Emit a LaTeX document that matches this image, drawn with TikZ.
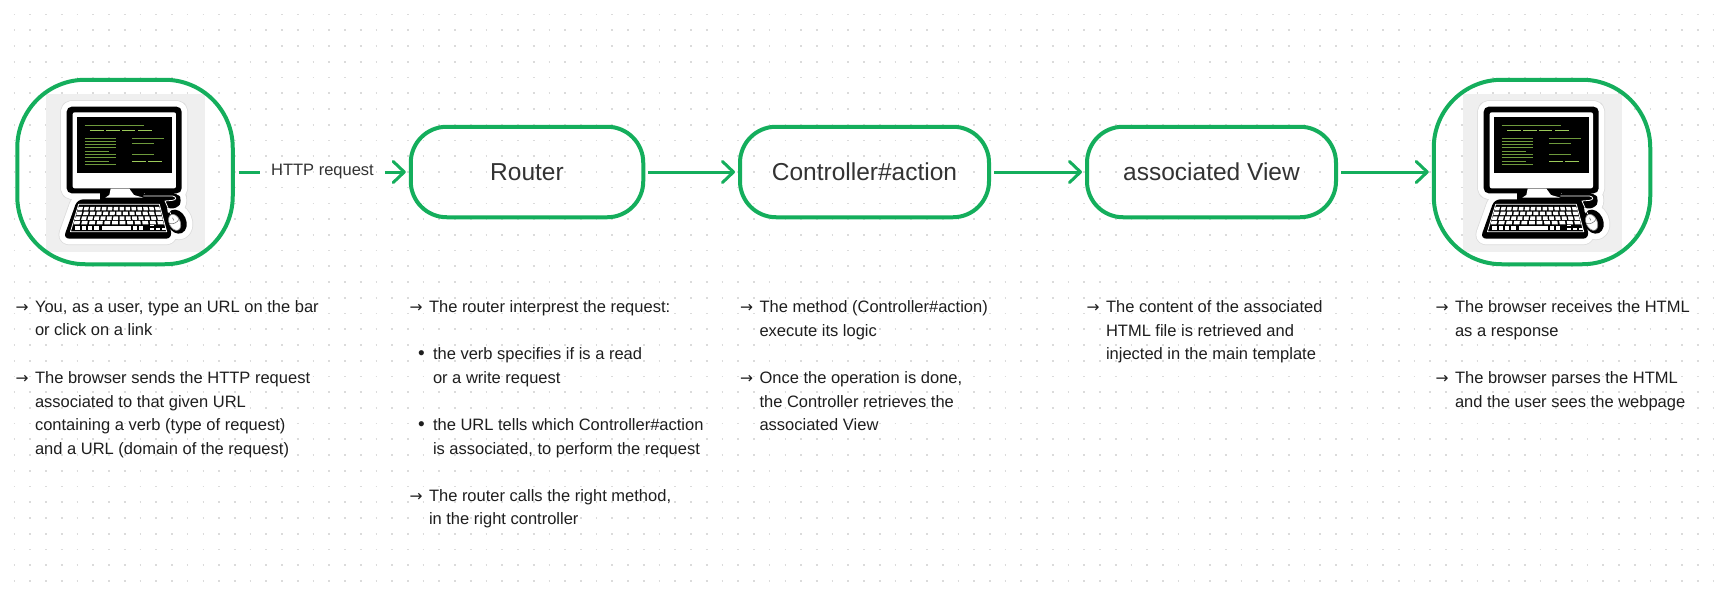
\documentclass[tikz,border=0pt]{standalone}
\usepackage{fontspec}
\setmainfont{Liberation Sans}
\newfontfamily\arrowfont{DejaVu Sans}
\usetikzlibrary{arrows.meta}
\definecolor{flowgreen}{HTML}{14AE5C}
\definecolor{gridgray}{HTML}{DBDBDB}
\definecolor{bodyink}{HTML}{1E1E1E}
\definecolor{boxink}{HTML}{333333}
\definecolor{iconbg}{HTML}{EFEFEF}
\definecolor{codeA}{HTML}{6E9A3C}
\definecolor{codeB}{HTML}{9CCB5A}
\newcommand{\arr}{\llap{\makebox[19.5pt][l]{\arrowfont\fontsize{15.5}{15.5}\selectfont →}}}
\newcommand{\bul}{\llap{\makebox[15pt][l]{\fontsize{19}{19}\selectfont •}}}
\newcommand{\strt}{\rule{0pt}{14pt}}
\newcommand{\para}[4]{\node[bodytext] (#3) at (#1,#2-14) {\strt #4};}
\newcommand{\iconshapes}[1]{%
  \path[#1,rounded corners=5pt] (200,140) rectangle (545,400);
  \path[#1] (300,395) rectangle (432,425);
  \path[#1,rounded corners=6pt] (232,418) -- (497,418) -- (516,536) -- (190,536) -- cycle;
  \path[#1,rounded corners=6pt] (425,398) -- (530,398) -- (548,420) -- (530,448) -- (480,440) -- (425,425) -- cycle;
  \path[#1,rotate around={25:(530,485)}] (530,485) ellipse [x radius=9.5pt,y radius=12.5pt];
}
\newcommand{\computericon}[1]{%
\begin{scope}[xshift=#1pt,yshift=-60pt,x=0.33333pt,y=-0.33333pt]
  \fill[iconbg] (138,102) rectangle (615,575);
  \iconshapes{draw=black!14,line width=13pt,line join=round}
  \iconshapes{draw=white,line width=11.5pt,line join=round}
  \iconshapes{fill=black}
  \fill[white,rounded corners=2pt] (218,157) rectangle (528,385);
  \fill[black] (232,170) rectangle (515,340);
  \foreach \ya/\xa/\xb in {195/254/432,234/254/347,243/254/347,253/254/347,263/254/347,274/254/328,283/254/347,293/254/347,303/254/328,313/254/347,234/396/492,250/396/463,283/396/463}
    \draw[codeA,line width=1pt] (\xa,\ya) -- (\xb,\ya);
  \foreach \ya/\xa/\xb in {211/270/311,211/318/359,211/366/406,211/415/456,303/396/437,303/445/485}
    \draw[codeB,line width=1pt] (\xa,\ya) -- (\xb,\ya);
  \fill[white] (332,386) -- (388,386) -- (402,405) -- (430,413) -- (316,413) -- (328,405) -- cycle;
  \draw[white,line width=.8pt,line join=round] (430,408) -- (518,408) .. controls (530,410) and (530,420) .. (518,421) -- (495,423) -- (512,462);
  \draw[white,line width=.8pt,line join=round] ({kx(433,0)},433) -- ({kx(433,1)},433) -- ({kx(515,1)},515) -- ({kx(515,0)},515) -- cycle;
  \foreach \r/\n in {0/14,1/13,2/14,3/12}{
    \pgfmathsetmacro\ya{441+14*\r}
    \pgfmathsetmacro\yb{\ya+10.5}
    \pgfmathsetmacro\last{int(\n-1)}
    \foreach \k in {0,...,\last}{
      \pgfmathsetmacro\ta{(\k+.12)/\n}
      \pgfmathsetmacro\tb{(\k+.88)/\n}
      \fill[white] ({kx(\ya,\ta)},\ya) -- ({kx(\ya,\tb)},\ya) -- ({kx(\yb,\tb)},\yb) -- ({kx(\yb,\ta)},\yb) -- cycle;
    }
  }
  \foreach \xa/\xb/\ya/\yb in {222/240/497/510,244/258/497/510,262/276/497/510,280/298/497/510,303/392/497/510,396/410/497/510,414/430/497/510,448/462/503/510,466/480/503/510,482/497/503/510,448/462/494/499}
    \fill[white] (\xa+3,\ya) rectangle (\xb,\yb);
  \draw[black!45,fill=white,line width=.6pt,rotate around={25:(524,487)}] (524,487) ellipse [x radius=5.5pt,y radius=8.5pt];
  \draw[black!60,line width=.5pt,rotate around={25:(524,487)}] (524,472) -- (524,481);
  \draw[black!60,line width=.5pt,rotate around={25:(524,487)}] (508,484) .. controls (518,491) and (530,491) .. (540,484);
\end{scope}}
\tikzset{
  declare function={kl(\y)=236-(\y-433)*.30; kr(\y)=478+(\y-433)*.27; kx(\y,\t)=kl(\y)+\t*(kr(\y)-kl(\y));},
  x=1pt,y=-1pt,
  bigbox/.style={draw=flowgreen,line width=4pt,rounded corners=68pt,inner sep=0,outer sep=0,minimum height=184.5pt},
  flowbox/.style={draw=flowgreen,line width=4pt,rounded corners=36pt,inner sep=0,outer sep=0,minimum height=90.5pt,text=boxink,font=\fontsize{24.5}{24.5}\selectfont},
  flowarrow/.style={draw=flowgreen,line width=3pt,-{Straight Barb[length=11pt,width=21pt,round]},shorten <=5pt,shorten >=5pt},
  bodytext/.style={anchor=north west,inner sep=0,outer sep=0,align=left,text=bodyink,font=\fontsize{16.5}{23.7}\selectfont},
  edgelabel/.style={inner xsep=11pt,inner ysep=2pt,outer sep=0,text=boxink,font=\fontsize{16.5}{16.5}\selectfont},
}
\begin{document}
\begin{tikzpicture}
\useasboundingbox (0,0) rectangle (1714,589);
\fill[white] (0,0) rectangle (1714,589);
\foreach \k in {-1,...,37}
  \draw[gridgray,line width=1.7pt,dash pattern=on 1.7pt off 14.03pt] (-1.98,{14.6+15.73*\k}) -- (1714,{14.6+15.73*\k});
\computericon{0}
\computericon{1417}
\node[bigbox,minimum width=215.5pt] (userA) at (125,172) {};
\node[bigbox,minimum width=216.5pt] (userB) at (1542,172) {};
\node[flowbox,minimum width=232.5pt] (router) at (527,172) {Router};
\node[flowbox,minimum width=249pt] (controller) at (864.5,172) {Controller\#action};
\node[flowbox,minimum width=249pt] (view) at (1211.5,172) {associated View};
\node[edgelabel] (httplabel) at (322.5,172) {HTTP request};
\draw[draw=flowgreen,line width=3pt,shorten <=6pt] (userA.east) -- (httplabel.west);
\draw[flowarrow,shorten <=0pt] (httplabel.east) -- (router.west);
\draw[flowarrow] (router.east) -- (controller.west);
\draw[flowarrow] (controller.east) -- (view.west);
\draw[flowarrow] (view.east) -- (userB.west);
\para{35}{312}{a1}{\arr You, as a user, type an URL on the bar\\or click on a link}
\para{35}{383.3}{a2}{\arr The browser sends the HTTP request\\associated to that given URL\\containing a verb (type of request)\\and a URL (domain of the request)}
\para{429}{312.3}{b1}{\arr The router interprest the request:}
\para{433}{359.7}{b2}{\bul the verb specifies if is a read\\or a write request}
\para{433}{430.3}{b3}{\bul the URL tells which Controller\#action\\is associated, to perform the request}
\para{429}{501}{b4}{\arr The router calls the right method,\\in the right controller}
\para{759.5}{312.3}{c1}{\arr The method (Controller\#action)\\execute its logic}
\para{759.5}{383.3}{c2}{\arr Once the operation is done,\\the Controller retrieves the\\associated View}
\para{1106}{312.3}{d1}{\arr The content of the associated\\HTML file is retrieved and\\injected in the main template}
\para{1455}{312.3}{e1}{\arr The browser receives the HTML\\as a response}
\para{1455}{383.3}{e2}{\arr The browser parses the HTML\\and the user sees the webpage}
\end{tikzpicture}
\end{document}
